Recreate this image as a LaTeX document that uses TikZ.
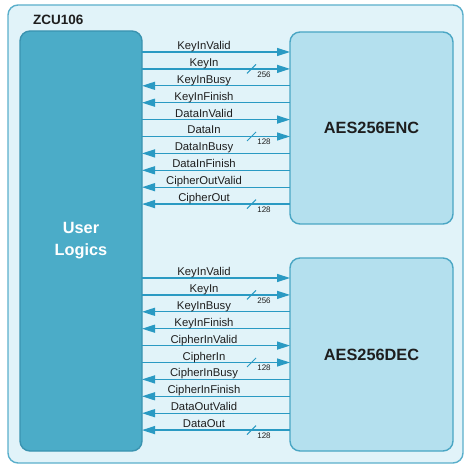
\documentclass[tikz,border=0pt]{standalone}
\usepackage{fontspec}
\setmainfont{Liberation Sans}
\usetikzlibrary{arrows.meta}
\definecolor{outerfill}{HTML}{E1F3F9}
\definecolor{outerline}{HTML}{5AAFCB}
\definecolor{ulfill}{HTML}{4BACC8}
\definecolor{ulline}{HTML}{3A93B0}
\definecolor{aesfill}{HTML}{B4E0EE}
\definecolor{aesline}{HTML}{4AA6C4}
\definecolor{sig}{HTML}{2A9AC3}
\definecolor{txt}{HTML}{1E1E1E}
\def\dirR{R}
\tikzset{
  block/.style={draw, rounded corners=10pt, line width=1.4pt, inner sep=0pt, outer sep=0pt},
  sigline/.style={draw=sig, line width=1.3pt},
  toR/.style={sigline, -{Triangle[length=13pt,width=8pt]}},
  toL/.style={sigline, {Triangle[length=13pt,width=8pt]}-},
  lbl/.style={anchor=base, font=\fontsize{11.3}{13}\selectfont, text=txt, inner sep=0pt},
  buslbl/.style={font=\fontsize{8}{9}\selectfont, text=txt, inner sep=0pt},
  slash/.style={draw=sig, line width=1pt}
}
\begin{document}
\begin{tikzpicture}[x=1pt,y=-1pt]
\useasboundingbox (0,0) rectangle (474,470);
\node[block, draw=outerline, fill=outerfill, minimum width=455pt, minimum height=458pt] (board) at (235.5,234) {};
\node[anchor=base west, inner sep=0pt, font=\bfseries\fontsize{13.5}{15}\selectfont, text=txt] (zcu) at (33,25) {ZCU106};
\node[block, draw=ulline, fill=ulfill, minimum width=122pt, minimum height=420pt, align=center, text=white, font=\bfseries\fontsize{16.3}{22}\selectfont] (UL) at (81,241) {User\\Logics};
\node[block, draw=aesline, fill=aesfill, minimum width=163pt, minimum height=192pt, text=txt, font=\bfseries\fontsize{16.3}{18}\selectfont] (ENC) at (371.5,128) {AES256ENC};
\node[block, draw=aesline, fill=aesfill, minimum width=163pt, minimum height=193pt, text=txt, font=\bfseries\fontsize{16.3}{18}\selectfont] (DEC) at (371.5,354.5) {AES256DEC};
% encoder signals
\foreach \i/\name/\dir/\bus in {0/KeyInValid/R/,1/KeyIn/R/256,2/KeyInBusy/L/,3/KeyInFinish/L/,4/DataInValid/R/,5/DataIn/R/128,6/DataInBusy/L/,7/DataInFinish/L/,8/CipherOutValid/L/,9/CipherOut/L/128}{
  \pgfmathsetmacro{\yy}{52+16.9*\i}
  \coordinate (e\i) at (0,\yy);
  \ifx\dir\dirR
    \draw[toR] (UL.east |- e\i) -- (ENC.west |- e\i);
  \else
    \draw[toL] (UL.east |- e\i) -- (ENC.west |- e\i);
  \fi
  \node[lbl] (el\i) at (204,\yy-2.5) {\name};
  \if\relax\detokenize\expandafter{\bus}\relax\else
    \draw[slash] (247,\yy+4.5) -- (256,\yy-4.5);
    \node[buslbl] (eb\i) at (264,\yy+5.5) {\bus};
  \fi
}
% decoder signals
\foreach \i/\name/\dir/\bus in {0/KeyInValid/R/,1/KeyIn/R/256,2/KeyInBusy/L/,3/KeyInFinish/L/,4/CipherInValid/R/,5/CipherIn/R/128,6/CipherInBusy/L/,7/CipherInFinish/L/,8/DataOutValid/L/,9/DataOut/L/128}{
  \pgfmathsetmacro{\yy}{278+16.9*\i}
  \coordinate (d\i) at (0,\yy);
  \ifx\dir\dirR
    \draw[toR] (UL.east |- d\i) -- (DEC.west |- d\i);
  \else
    \draw[toL] (UL.east |- d\i) -- (DEC.west |- d\i);
  \fi
  \node[lbl] (dl\i) at (204,\yy-2.5) {\name};
  \if\relax\detokenize\expandafter{\bus}\relax\else
    \draw[slash] (247,\yy+4.5) -- (256,\yy-4.5);
    \node[buslbl] (db\i) at (264,\yy+5.5) {\bus};
  \fi
}
\end{tikzpicture}
\end{document}
